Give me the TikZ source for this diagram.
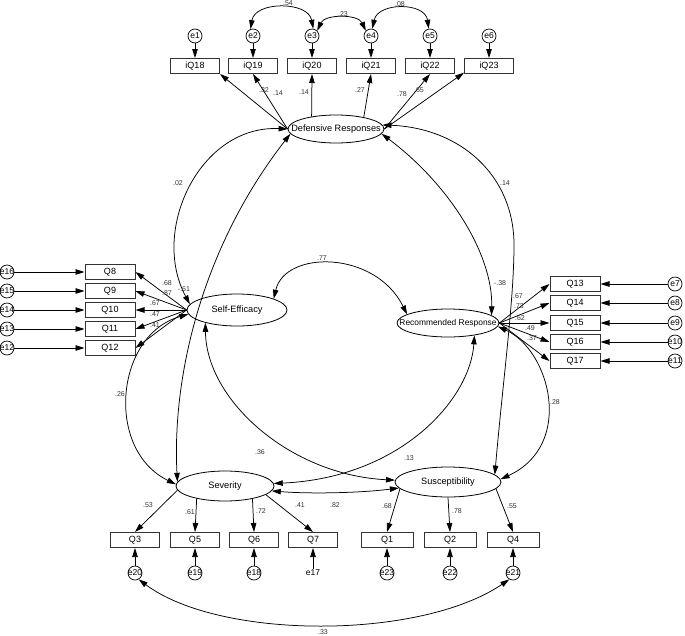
\documentclass[tikz,border=0pt]{standalone}
\usepackage{fontspec}
\setmainfont{Liberation Sans}
\usetikzlibrary{arrows.meta,shapes.geometric}
\begin{document}
\begin{tikzpicture}[x=1pt,y=-1pt,
  font=\fontsize{9}{10}\selectfont,
  box/.style={draw=black!80,line width=1pt,rectangle,minimum width=49pt,minimum height=15pt,inner sep=0pt},
  err/.style={draw,circle,line width=0.7pt,minimum size=14pt,inner sep=0pt,font=\fontsize{8.5}{9}\selectfont},
  lat/.style={draw,ellipse,line width=0.8pt,inner sep=0pt,font=\fontsize{9.2}{10}\selectfont},
  reg/.style={line width=0.75pt,-{Triangle[length=9pt,width=5.5pt]}},
  cov/.style={line width=0.75pt,{Triangle[length=9pt,width=5.5pt]}-{Triangle[length=9pt,width=5.5pt]}},
  lab/.style={font=\fontsize{7}{8}\selectfont,inner sep=0pt,text=black!80},
]
\useasboundingbox (0,0) rectangle (685,635);

% latent variables
\node[lat,minimum width=96pt,minimum height=28pt] (DR) at (336,129) {\makebox[0pt]{Defensive Responses}};
\node[lat,minimum width=100pt,minimum height=32pt] (SE) at (237,310) {\makebox[0pt]{Self-Efficacy}};
\node[lat,minimum width=102pt,minimum height=28pt,font=\fontsize{8.4}{9}\selectfont] (RR) at (448,323) {\makebox[0pt]{Recommended Response}};
\node[lat,minimum width=98pt,minimum height=30pt] (SV) at (225,486) {\makebox[0pt]{Severity}};
\node[lat,minimum width=106pt,minimum height=30pt] (SU) at (448,482) {\makebox[0pt]{Susceptibility}};

% top indicators
\foreach \i/\n/\x in {1/18/195,2/19/253,3/20/312,4/21/371,5/22/430,6/23/489}{
  \node[err] (e\i) at (\x,36) {\makebox[0pt]{e\i}};
  \node[box] (iQ\n) at (\x,66) {iQ\n};
  \draw[reg] (e\i) -- (iQ\n);
}
\draw[reg] (DR.180) -- (iQ18.south east);
\draw[reg] (DR.180) -- (iQ19.south);
\draw[reg] (DR.153) -- (iQ20.south);
\draw[reg] (DR.23) -- (iQ21.south);
\draw[reg] (DR.0) -- (iQ22.south);
\draw[reg] (DR.0) -- (iQ23.195);

% left indicators
\foreach \q/\e/\y in {8/16/272,9/15/291,10/14/310,11/13/329,12/12/348}{
  \node[box,minimum width=50pt] (Q\q) at (110,\y) {Q\q};
  \node[err] (e\e) at (7,\y) {\makebox[0pt]{e\e}};
  \draw[reg] (e\e) -- (Q\q);
  \draw[reg] (SE.180) -- (Q\q.east);
}

% right indicators
\foreach \q/\e/\y in {13/7/284,14/8/303,15/9/323,16/10/342,17/11/361}{
  \node[box,minimum width=50pt] (Q\q) at (575,\y) {Q\q};
  \node[err] (e\e) at (675,\y) {\makebox[0pt]{e\e}};
  \draw[reg] (e\e) -- (Q\q);
  \draw[reg] (RR.0) -- (Q\q.west);
}

% bottom indicators
\foreach \q/\x/\w in {3/135/49,5/195/49,6/254/49,7/313/49,1/387/52,2/450/52,4/513/52}{
  \node[box,minimum width=\w pt] (Q\q) at (\x,540) {Q\q};
}
\foreach \e/\q/\x in {20/3/135,19/5/195,18/6/254,23/1/387,22/2/450,21/4/513}{
  \node[err] (e\e) at (\x,573) {\makebox[0pt]{e\e}};
  \draw[reg] (e\e) -- (Q\q);
}
\node[inner sep=1pt,font=\fontsize{8.5}{9}\selectfont] (e17) at (313,573) {e17};
\draw[reg] (e17) -- (Q7);

\draw[reg] (SV.185) -- (Q3.north);
\draw[reg] (SV.204) -- (Q5.north);
\draw[reg] (SV.335) -- (Q6.north);
\draw[reg] (SV.348) -- (Q7.north);
\draw[reg] (SU.188) -- (Q1.north);
\draw[reg] (SU.270) -- (Q2.north);
\draw[reg] (SU.352) -- (Q4.north);

% covariances
\draw[cov] (e2.110) .. controls (255,1) and (308,1) .. (e3.80);
\draw[cov] (e3.45) .. controls (325,14) and (358,14) .. (e4.135);
\draw[cov] (e4.80) .. controls (378,2) and (425,2) .. (e5.100);
\draw[cov] (e20.-60) .. controls (220,640) and (420,640) .. (e21.-120);

\draw[cov] (DR.180) .. controls (200,125) and (150,230) .. (SE.173);
\draw[cov] (DR.186) .. controls (200,250) and (172,380) .. (SV.175);
\draw[cov] (DR.354) .. controls (450,185) and (493,255) .. (RR.10);
\draw[cov] (DR.5) .. controls (460,128) and (514,175) .. (514,245)
   .. controls (514,300) and (503,380) .. (SU.9);
\draw[cov] (SE.17) .. controls (285,250) and (375,250) .. (RR.168);
\draw[cov] (SE.185) .. controls (115,335) and (105,450) .. (SV.178);
\draw[cov] (SE.202) .. controls (206,400) and (290,475) .. (SU.178);
\draw[cov] (SV.354) .. controls (310,494) and (360,493) .. (SU.187);
\draw[cov] (RR.335) .. controls (470,400) and (400,478) .. (SV.3);
\draw[cov] (RR.356) .. controls (550,350) and (575,445) .. (SU.3);

% labels
\node[lab] (l1) at (288,3.5) {.54};
\node[lab] (l2) at (343,14) {.23};
\node[lab] (l3) at (400,4) {.08};
\node[lab] (l4) at (264,90) {.32};
\node[lab] (l5) at (278,93) {.14};
\node[lab] (l6) at (304,92) {.14};
\node[lab] (l7) at (360,90) {.27};
\node[lab] (l8) at (402,94) {.78};
\node[lab] (l9) at (419,90) {.65};
\node[lab] (l10) at (178,183) {.02};
\node[lab] (l11) at (505,183) {.14};
\node[lab] (l12) at (184,289) {-.61};
\node[lab] (l13) at (500,283) {-.38};
\node[lab] (l14) at (167,283) {.68};
\node[lab] (l15) at (167,293) {.87};
\node[lab] (l16) at (155,303) {.67};
\node[lab] (l17) at (155,314) {.47};
\node[lab] (l18) at (155,325) {.41};
\node[lab] (l19) at (322,258) {.77};
\node[lab] (l20) at (518,296) {.67};
\node[lab] (l21) at (519,306) {.73};
\node[lab] (l22) at (520,318) {.62};
\node[lab] (l23) at (530,328) {.49};
\node[lab] (l24) at (532,338) {.37};
\node[lab] (l25) at (120,394) {.26};
\node[lab] (l26) at (260,452) {.36};
\node[lab] (l27) at (409,458) {.13};
\node[lab] (l28) at (555,402) {.28};
\node[lab] (l29) at (148,505) {.53};
\node[lab] (l30) at (190,512) {.61};
\node[lab] (l31) at (261,511) {.72};
\node[lab] (l32) at (300,505) {.41};
\node[lab] (l33) at (335,505) {.82};
\node[lab] (l34) at (387,506) {.68};
\node[lab] (l35) at (457,511) {.78};
\node[lab] (l36) at (512,506) {.55};
\node[lab] (l37) at (323,632) {.33};
\end{tikzpicture}
\end{document}
